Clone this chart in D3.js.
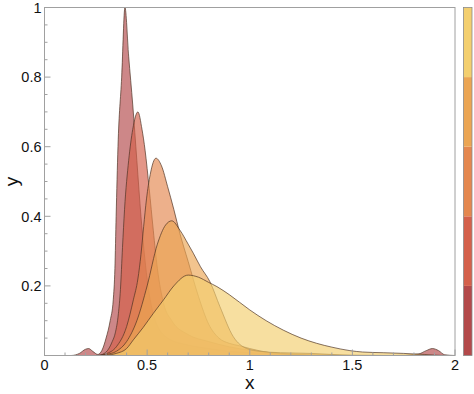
<!DOCTYPE html>
<html><head><meta charset="utf-8">
<script src="https://cdn.jsdelivr.net/npm/d3@7"></script>
<style>body{margin:0;background:#fff}svg{display:block}</style>
</head><body>
<script>
// ---- data ----
const xTicks = [0, 0.5, 1, 1.5, 2];
const xTickLabels = ["0", "0.5", "1", "1.5", "2"];
const yTicks = [0.2, 0.4, 0.6, 0.8, 1];
const yTickLabels = ["0.2", "0.4", "0.6", "0.8", "1"];
const seriesColors = ["#b3494a", "#d4604b", "#e4874f", "#eba553", "#f3cf6f"];

const s1x = [0, 0.13, 0.17, 0.2, 0.215, 0.235, 0.26, 0.28, 0.3, 0.32, 0.335, 0.343, 0.349, 0.358, 0.376, 0.392, 0.41, 0.43, 0.45, 0.47, 0.5, 0.54, 0.6, 0.7, 0.8, 0.9, 1.0, 1.1, 1.3, 1.5, 1.7, 1.82, 1.86, 1.89, 1.92, 1.95, 2.0];
const s1y = [0, 0, 0.006, 0.018, 0.02, 0.012, 0.003, 0.015, 0.05, 0.1, 0.16, 0.25, 0.4, 0.6, 0.8, 1.0, 0.86, 0.72, 0.56, 0.4, 0.22, 0.1, 0.05, 0.03, 0.02, 0.012, 0.008, 0.005, 0.002, 0.001, 0, 0.004, 0.014, 0.02, 0.014, 0.002, 0];

const s2x = [0, 0.26, 0.3, 0.33, 0.345, 0.36, 0.37, 0.38, 0.39, 0.41, 0.43, 0.455, 0.475, 0.49, 0.51, 0.53, 0.55, 0.58, 0.62, 0.7, 0.8, 0.9, 1.0, 1.1, 1.2, 1.4, 2.0];
const s2y = [0, 0, 0.01, 0.04, 0.065, 0.12, 0.19, 0.31, 0.42, 0.56, 0.65, 0.70, 0.65, 0.59, 0.48, 0.36, 0.25, 0.15, 0.1, 0.06, 0.04, 0.025, 0.015, 0.008, 0.004, 0, 0];

const s3x = [0, 0.26, 0.3, 0.35, 0.4, 0.433, 0.455, 0.47, 0.483, 0.497, 0.515, 0.543, 0.57, 0.6, 0.63, 0.66, 0.7, 0.75, 0.8, 0.85, 0.9, 0.95, 1.0, 1.1, 1.2, 1.3, 2.0];
const s3y = [0, 0, 0.005, 0.025, 0.083, 0.16, 0.22, 0.29, 0.37, 0.45, 0.52, 0.567, 0.545, 0.485, 0.42, 0.35, 0.27, 0.17, 0.09, 0.05, 0.035, 0.028, 0.02, 0.008, 0.003, 0, 0];

const s4x = [0, 0.26, 0.3, 0.35, 0.4, 0.45, 0.5, 0.55, 0.59, 0.62, 0.66, 0.7, 0.725, 0.76, 0.806, 0.855, 0.92, 0.985, 1.05, 1.15, 1.3, 1.4, 1.5, 2.0];
const s4y = [0, 0, 0.003, 0.012, 0.04, 0.1, 0.2, 0.32, 0.375, 0.387, 0.36, 0.32, 0.294, 0.255, 0.212, 0.14, 0.054, 0.02, 0.012, 0.008, 0.006, 0.003, 0, 0];

const s5x = [0, 0.25, 0.3, 0.35, 0.4, 0.433, 0.48, 0.53, 0.58, 0.63, 0.7, 0.75, 0.8, 0.84, 0.9, 1.0, 1.08, 1.163, 1.25, 1.326, 1.4, 1.488, 1.55, 1.65, 1.75, 1.85, 1.95, 2.0];
const s5y = [0, 0, 0.001, 0.006, 0.02, 0.045, 0.08, 0.121, 0.16, 0.2, 0.231, 0.225, 0.21, 0.198, 0.175, 0.131, 0.1, 0.073, 0.05, 0.035, 0.024, 0.014, 0.01, 0.008, 0.006, 0.003, 0, 0];

const seriesX = [s1x, s2x, s3x, s4x, s5x];
const seriesY = [s1y, s2y, s3y, s4y, s5y];

// ---- drawing ----
const W = 474, H = 394;
const L = 44.5, R = 455, T = 7.5, B = 355.5;
const svg = d3.select("body").append("svg").attr("width", W).attr("height", H)
  .style("font-family", "'Liberation Sans', Arial, sans-serif");

const x = d3.scaleLinear().domain([0, 2]).range([L, R]);
const y = d3.scaleLinear().domain([0, 1]).range([B, T]);

const area = d3.area().x(d => x(d[0])).y0(y(0)).y1(d => y(d[1])).curve(d3.curveMonotoneX);
const line = d3.line().x(d => x(d[0])).y(d => y(d[1])).curve(d3.curveMonotoneX);

seriesX.forEach((xs, i) => {
  const pts = xs.map((v, j) => [v, seriesY[i][j]]);
  svg.append("path").attr("d", area(pts)).attr("fill", seriesColors[i]).attr("fill-opacity", 0.66);
  svg.append("path").attr("d", line(pts)).attr("fill", "none").attr("stroke", "#4a3020")
    .attr("stroke-opacity", 0.85).attr("stroke-width", 0.8);
});

// frame
svg.append("rect").attr("x", L).attr("y", T).attr("width", R - L).attr("height", B - T)
  .attr("fill", "none").attr("stroke", "#a0a0a0").attr("stroke-width", 1);

// minor + major ticks (inward)
const tg = svg.append("g").attr("stroke", "#a0a0a0").attr("stroke-width", 1);
d3.range(0, 1.0001, 0.05).forEach(v => {
  const major = Math.abs(v * 5 - Math.round(v * 5)) < 1e-6;
  tg.append("line").attr("x1", L).attr("x2", L + (major ? 6 : 3)).attr("y1", y(v)).attr("y2", y(v));
});
d3.range(0, 2.0001, 0.1).forEach(v => {
  const major = Math.abs(v * 2 - Math.round(v * 2)) < 1e-6;
  tg.append("line").attr("y1", B).attr("y2", B - (major ? 6 : 3)).attr("x1", x(v)).attr("x2", x(v));
});

// tick labels
xTicks.forEach((v, i) => {
  svg.append("text").attr("x", x(v)).attr("y", B + 14.5).attr("text-anchor", "middle")
    .attr("font-size", 14.5).attr("fill", "#111").text(xTickLabels[i]);
});
yTicks.forEach((v, i) => {
  svg.append("text").attr("x", L - 3).attr("y", y(v) + 5.3).attr("text-anchor", "end")
    .attr("font-size", 14.5).attr("fill", "#111").text(yTickLabels[i]);
});

// axis labels
svg.append("text").attr("x", (L + R) / 2).attr("y", 389).attr("text-anchor", "middle")
  .attr("font-size", 19).attr("fill", "#111").text("x");
svg.append("text").attr("transform", `translate(18,${(T + B) / 2}) rotate(-90)`)
  .attr("text-anchor", "middle").attr("font-size", 19).attr("fill", "#111").text("y");

// colour bar
const cb = d3.scaleBand().domain(d3.range(5)).range([B, T]).paddingInner(0);
const cbx = 463.5, cbw = 8.5;
seriesColors.forEach((c, i) => {
  svg.append("rect").attr("x", cbx).attr("y", cb(i)).attr("width", cbw).attr("height", cb.bandwidth())
    .attr("fill", c);
});
svg.append("rect").attr("x", cbx).attr("y", T).attr("width", cbw).attr("height", B - T)
  .attr("fill", "none").attr("stroke", "#8a8a8a").attr("stroke-width", 0.8);
</script>
</body></html>
